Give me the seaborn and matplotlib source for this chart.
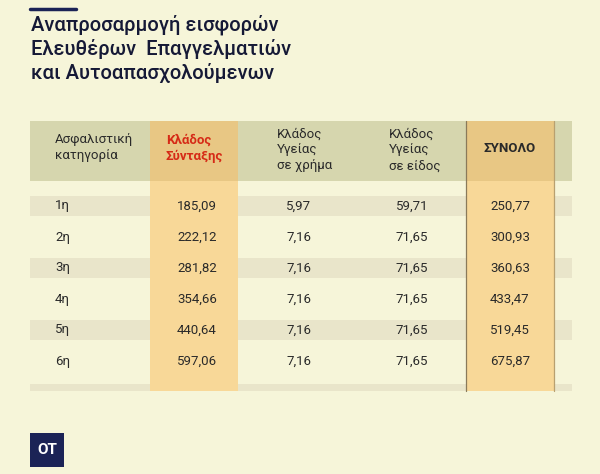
import seaborn as sns
import matplotlib.pyplot as plt
from matplotlib.patches import Rectangle

categories = ["1η", "2η", "3η", "4η", "5η", "6η"]
syntaxi = ["185,09", "222,12", "281,82", "354,66", "440,64", "597,06"]
ygeia_xrima = ["5,97", "7,16", "7,16", "7,16", "7,16", "7,16"]
ygeia_eidos = ["59,71", "71,65", "71,65", "71,65", "71,65", "71,65"]
synolo = ["250,77", "300,93", "360,63", "433,47", "519,45", "675,87"]
headers = ["Ασφαλιστική\nκατηγορία", "Κλάδος\nΣύνταξης", "Κλάδος\nΥγείας\nσε χρήμα",
           "Κλάδος\nΥγείας\nσε είδος", "ΣΥΝΟΛΟ"]
title = "Αναπροσαρμογή εισφορών\nΕλευθέρων  Επαγγελματιών\nκαι Αυτοαπασχολούμενων"

sns.set_theme(style="white")
plt.rcParams['font.family'] = ['Roboto', 'DejaVu Sans']

W, H = 600, 474
bg = "#F6F5D9"
fig = plt.figure(figsize=(6, 4.74), dpi=100, facecolor=bg)
ax = fig.add_axes([0, 0, 1, 1])
ax.set_xlim(0, W)
ax.set_ylim(H, 0)
ax.axis("off")
ax.set_facecolor(bg)

def rect(x0, y0, x1, y1, c, z=1):
    ax.add_patch(Rectangle((x0, y0), x1 - x0, y1 - y0, color=c, lw=0, zorder=z))

# top accent line and title
ax.plot([30, 76], [9, 9], color="#1B2356", lw=2.5)
ax.text(31, 15, title, fontsize=14.5, color="#151936", fontweight="medium",
        va="top", ha="left", linespacing=1.25)

# header band and stripes
rect(30, 121, 572, 181, "#D6D6AE")
row_y = [206, 237, 268, 299, 330, 361]
for i, y in enumerate(row_y):
    if i % 2 == 0:
        rect(30, y - 10, 572, y + 10, "#E9E5CA")
rect(30, 384, 572, 391, "#E9E5CA")

# highlighted columns
for x0, x1 in [(150, 238), (466, 554)]:
    rect(x0, 181, x1, 391, "#F8D898", 2)
    rect(x0, 121, x1, 181, "#E8C784", 2)
ax.plot([466, 466], [121, 391], color="#8A7A5A", lw=0.9, zorder=3)
ax.plot([554, 554], [121, 391], color="#B8A070", lw=0.9, zorder=3)

# headers
hx = [55, 166, 277, 389, 483]
for i, (x, h) in enumerate(zip(hx, headers)):
    color = "#D62A16" if i == 1 else "#2A2A2A"
    weight = "bold" if i in (1, 4) else "normal"
    y = 148 if i in (0, 1, 4) else 150
    ax.text(x, y, h, fontsize=9.5, color=color, fontweight=weight, va="center",
            ha="left", linespacing=1.3, zorder=4)

# values
cols = [(55, categories, "left"), (197, syntaxi, "center"), (299, ygeia_xrima, "center"),
        (412, ygeia_eidos, "center"), (510, synolo, "center")]
for x, vals, ha in cols:
    for y, v in zip(row_y, vals):
        ax.text(x, y, v, fontsize=9.5, color="#2A2A2A", ha=ha, va="center", zorder=4)

# logo
rect(30, 433, 64, 467, "#1B2356", 4)
ax.text(47, 450, "OT", fontsize=11, color="white", fontweight="bold",
        ha="center", va="center", zorder=5)

fig.savefig("out.png", dpi=100, facecolor=bg)
